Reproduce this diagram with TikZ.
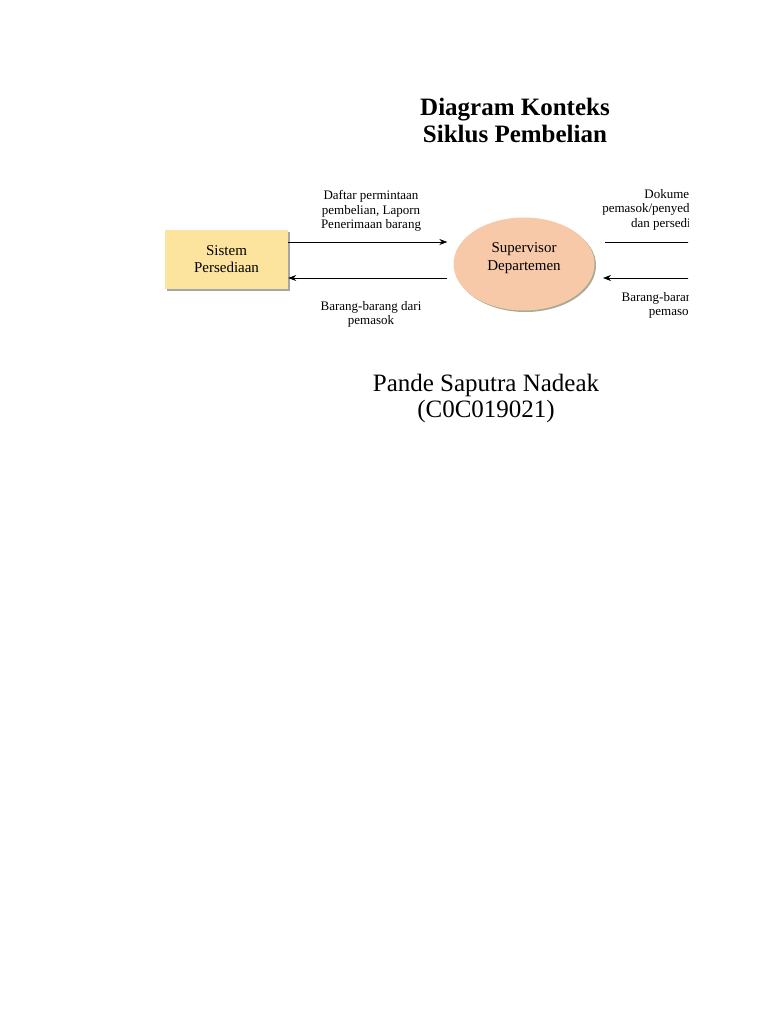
\documentclass[tikz,border=0pt]{standalone}
\usepackage{fontspec}
\setmainfont{Liberation Serif}
\usetikzlibrary{shapes,arrows.meta,shadows}
\definecolor{kuning}{HTML}{FCE49E}
\definecolor{jingga}{HTML}{F8C9A8}
\definecolor{bayang}{HTML}{A9AB92}
\tikzstyle{arrow} = [->,>={Stealth[length=8pt,width=6pt]},line width=0.7pt]
\tikzstyle{entitas} = [rectangle,fill=kuning,minimum width=123pt,minimum height=58pt,align=center,
  font=\fontsize{15}{17}\selectfont,drop shadow={shadow xshift=2pt,shadow yshift=-2pt,fill=gray!70,opacity=1}]
\tikzstyle{proses} = [ellipse,fill=jingga,minimum width=141pt,minimum height=93pt,align=center,text depth=14pt,
  font=\fontsize{15}{18}\selectfont,drop shadow={shadow xshift=1.5pt,shadow yshift=-1.5pt,fill=bayang,opacity=1}]
\tikzstyle{aliran} = [align=center,font=\fontsize{13}{14.5}\selectfont]

\begin{document}
\begin{tikzpicture}[x=1pt,y=-1pt]
  \useasboundingbox (0,0) rectangle (768,1024);
  % judul
  \node[align=center,font=\bfseries\fontsize{25}{27}\selectfont] (judul) at (515,120)
    {Diagram Konteks\\Siklus Pembelian};
  % entitas dan proses
  \node[entitas] (sistem) at (226.5,259.5) {Sistem\\Persediaan};
  \node[proses] (supervisor) at (524,264) {Supervisor\\Departemen};
  \draw[arrow,shorten >=6pt] (sistem.east |- 0,242) -- (supervisor.west |- 0,242);
  \draw[arrow,shorten <=6pt] (supervisor.west |- 0,278) -- (sistem.east |- 0,278);
  \node[aliran] (daftar) at (371,211) {Daftar permintaan\\pembelian, Laporn\\Penerimaan barang};
  \node[aliran] (barang) at (371,314.5) {Barang-barang dari\\pemasok};
  % sisi kanan, terpotong
  \begin{scope}
    \clip (0,0) rectangle (688,1024);
    \coordinate (luarA) at (740,242);
    \coordinate (luarB) at (740,278);
    \draw[arrow] (605,242) -- (luarA);
    \draw[arrow] (luarB) -- (603,278);
    \node[aliran] (dokumen) at (670,209.5) {Dokumen\\pemasok/penyedia barang\\dan persediaan};
    \node[aliran] (barangb) at (672,305.5) {Barang-barang dari\\pemasok};
  \end{scope}
  % nama
  \node[align=center,font=\fontsize{25}{26}\selectfont] (nama) at (486,398)
    {Pande Saputra Nadeak\\(C0C019021)};
\end{tikzpicture}
\end{document}
